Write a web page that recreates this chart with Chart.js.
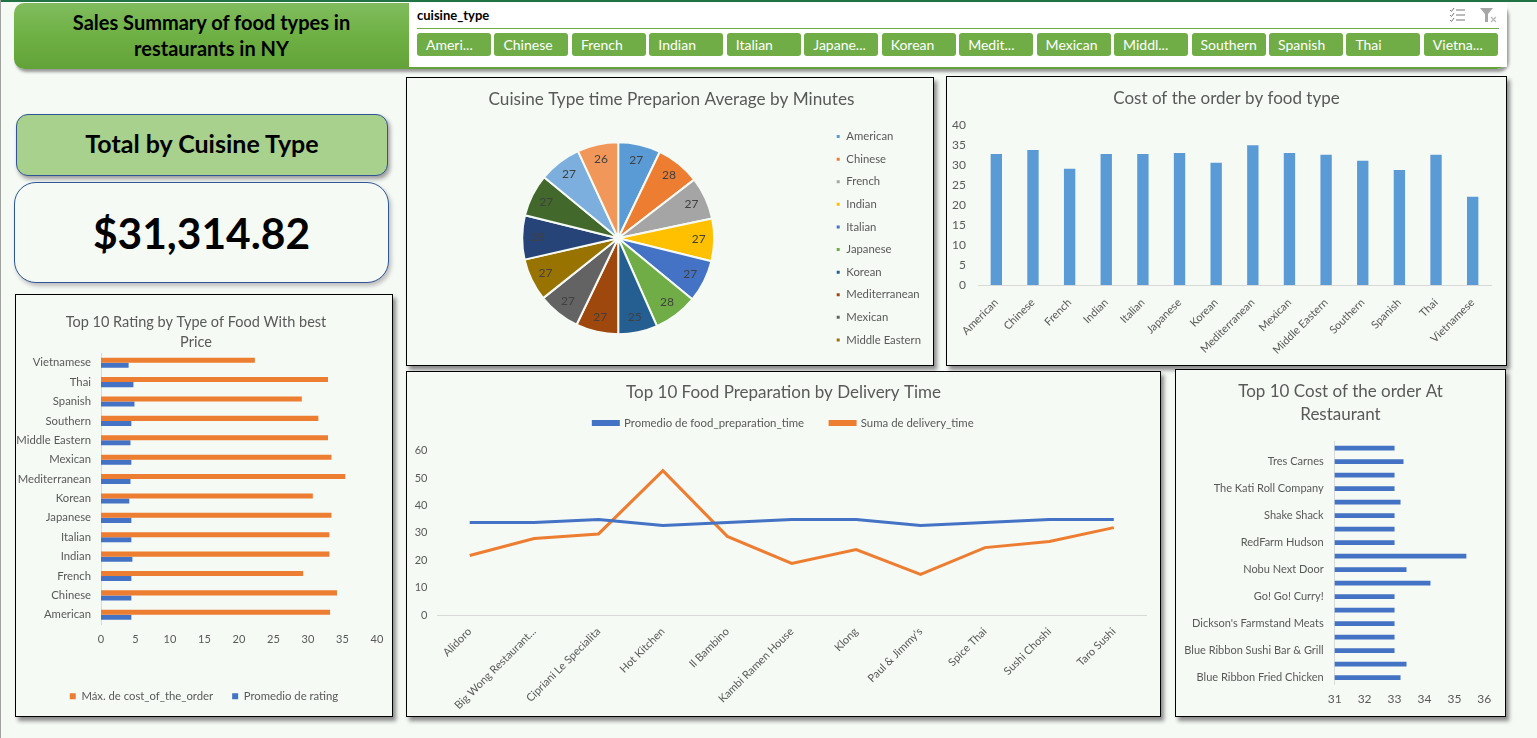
<!DOCTYPE html>
<html><head><meta charset="utf-8">
<script src="https://cdn.jsdelivr.net/npm/chart.js@4/dist/chart.umd.min.js"></script>
<style>
html,body{margin:0;padding:0;width:1537px;height:738px;overflow:hidden;background:#F5FAF5;font-family:Lato,sans-serif}
.abs{position:absolute;box-sizing:border-box}
.panel{position:absolute;box-sizing:border-box;background:#F5FAF5;border:1.5px solid #000;box-shadow:3px 4px 4px #8a8a8a}
canvas{position:absolute;display:block}
.btn{position:absolute;top:33px;width:74px;height:23px;background:#70AD47;border-radius:3px;color:#fff;font-size:14px;line-height:23px;padding-left:9px;box-sizing:border-box;white-space:nowrap;overflow:hidden}
</style></head><body>
<div class="abs" style="left:0;top:0;width:1537px;height:2px;background:#217346"></div>
<div class="abs" style="left:0;top:0;width:1px;height:738px;background:#a0a0a0"></div>
<div class="abs" style="left:14px;top:3px;width:1493px;height:66px;border-radius:10px;background:linear-gradient(#80BC5E,#6FB044 50%,#62A238);box-shadow:2px 3px 3px #999"></div>
<div class="abs" style="left:14px;top:2px;width:395px;height:66px;display:flex;align-items:center;justify-content:center;text-align:center;font-weight:700;font-size:20px;line-height:26px;color:#000"><div>Sales Summary of food types in<br>restaurants in NY</div></div>
<div class="abs" id="slicer" style="left:409px;top:3px;width:1098px;height:64px;background:#fff">
  <div class="abs" style="left:8px;top:4px;font-weight:700;font-size:13px;color:#000">cuisine_type</div>
  <div class="abs" style="left:8px;top:25px;width:1082px;height:1px;background:#70AD47"></div>
  <svg class="abs" style="left:1038px;top:3px" width="52" height="18" viewBox="0 0 52 18">
    <g stroke="#777" stroke-width="1" fill="none">
      <path d="M3 4l1.5 1.5L7 2M3 9l1.5 1.5L7 7M3 14l1.5 1.5L7 12M9 4h9M9 9h9M9 14h9"/>
    </g>
    <path d="M33 2h13l-5 6v8h-3V8z" fill="#a6a6a6"/>
    <path d="M44 11l5 5M49 11l-5 5" stroke="#b5b5b5" stroke-width="1.2"/>
  </svg>
</div>
<div class="abs" style="left:16px;top:114px;width:372px;height:62px;padding-bottom:4px;background:#A9D18E;border:1.5px solid #2F5597;border-radius:12px;box-shadow:2px 3px 4px #999;display:flex;align-items:center;justify-content:center;font-weight:700;font-size:25px;color:#000">Total by Cuisine Type</div>
<div class="abs" style="left:14px;top:182px;width:375px;height:101px;background:#F5FAF5;border:1.5px solid #2F5597;border-radius:22px;box-shadow:2px 3px 4px #bbb;display:flex;align-items:center;justify-content:center;font-weight:700;font-size:42.5px;color:#000">$31,314.82</div>

<div class="panel" style="left:406px;top:77px;width:528px;height:289px"></div>
<div class="panel" style="left:946px;top:76px;width:561px;height:290px"></div>
<div class="panel" style="left:15px;top:294px;width:378px;height:423px"></div>
<div class="panel" style="left:406px;top:371px;width:755px;height:346px"></div>
<div class="panel" style="left:1175px;top:369px;width:331px;height:348px"></div>
<canvas id="pie" width="528" height="289" style="left:406px;top:77px"></canvas>
<canvas id="col" width="561" height="290" style="left:946px;top:76px"></canvas>
<canvas id="rate" width="378" height="423" style="left:15px;top:294px"></canvas>
<canvas id="line" width="755" height="346" style="left:406px;top:371px"></canvas>
<canvas id="rest" width="331" height="348" style="left:1175px;top:369px"></canvas>
<script>
const cuisines=["American","Chinese","French","Indian","Italian","Japanese","Korean","Mediterranean","Mexican","Middle Eastern","Southern","Spanish","Thai","Vietnamese"];
const slicerLabels=["Ameri...","Chinese","French","Indian","Italian","Japane...","Korean","Medit...","Mexican","Middl...","Southern","Spanish","Thai","Vietna..."];
const prepMinutes=[27,28,27,27,27,28,25,27,27,27,28,27,27,26];
const pieColors=["#5B9BD5","#ED7D31","#A5A5A5","#FFC000","#4472C4","#70AD47","#255E91","#9E480E","#636363","#997300","#264478","#43682B","#7CAFDD","#F1975A"];
const orderCost=[32.8,33.8,29.1,32.8,32.8,33.05,30.6,35.0,33.05,32.6,31.1,28.8,32.6,22.1];
const maxCost=[33.2,34.2,29.3,33.1,33.1,33.4,30.7,35.4,33.4,32.9,31.5,29.1,32.9,22.3];
const avgRating=[4.4,4.4,4.4,4.55,4.4,4.4,4.1,4.27,4.4,4.27,4.4,4.85,4.7,4.0];
const lineRestaurants=["Alidoro","Big Wong Restaurant...","Cipriani Le Specialita","Hot Kitchen","Il Bambino","Kambi Ramen House","Klong","Paul & Jimmy's","Spice Thai","Sushi Choshi","Taro Sushi"];
const prepTime=[33.8,33.8,34.9,32.7,33.8,34.9,34.9,32.7,33.8,34.9,34.9];
const deliveryTime=[21.7,27.9,29.6,52.7,28.7,18.8,23.9,14.8,24.6,26.8,31.9];
const costRestaurants=["Blue Ribbon Fried Chicken","","Blue Ribbon Sushi Bar & Grill","","Dickson's Farmstand Meats","","Go! Go! Curry!","","Nobu Next Door","","RedFarm Hudson","","Shake Shack","","The Kati Roll Company","","Tres Carnes",""];
const restaurantCost=[33.2,33.4,33,33,33,33,33,34.2,33.4,35.4,33,33,33,33.2,33,33,33.3,33];

const box=document.getElementById('slicer');
slicerLabels.forEach((t,i)=>{const d=document.createElement('div');d.className='btn';d.textContent=t;d.style.left=(8+i*77.45)+'px';d.style.top='30px';box.appendChild(d);});

Chart.defaults.font.family='Lato';
Chart.defaults.color='#595959';
Chart.defaults.animation=false;
Chart.defaults.responsive=false;
Chart.defaults.devicePixelRatio=1;
Chart.defaults.plugins.tooltip.enabled=false;
const GREY='#D9D9D9';
const fixW=w=>s=>{s.width=w;s.paddingTop=0;s.paddingBottom=0;};
const fixH=h=>s=>{s.height=h;s.paddingLeft=0;s.paddingRight=0;};
const spacer={id:'spacer',beforeLayout(c,a,o){if(c.legend&&o.extra){const f=c.legend.fit;c.legend.fit=function(){f.call(this);this.height+=o.extra;};}}};
const centerTitle={id:'centerTitle',afterLayout(c){c.titleBlock.left=0;c.titleBlock.right=c.width;}};
const centerLegend={id:'centerLegend',afterLayout(c){c.legend.left=0;c.legend.right=c.width;}};
const pieLabels={id:'pieLabels',afterDatasetsDraw(c){const g=c.ctx,m=c.getDatasetMeta(0);g.save();g.font='12px Lato';g.fillStyle='#404040';g.textAlign='center';g.textBaseline='middle';
 m.data.forEach((a,i)=>{const t=(a.startAngle+a.endAngle)/2,r=a.outerRadius*0.84;g.fillText(c.data.datasets[0].data[i],a.x+Math.cos(t)*r,a.y+Math.sin(t)*r);});g.restore();}};
const title=(text,size,top,bottom,lh)=>({display:true,text,color:'#595959',font:{size,weight:'normal',lineHeight:lh||1.25},padding:{top,bottom}});
const noGrid={display:false,drawTicks:false};

new Chart('pie',{type:'pie',plugins:[pieLabels],data:{labels:cuisines,datasets:[{data:prepMinutes,backgroundColor:pieColors,borderColor:'#F5FAF5',borderWidth:2}]},
 options:{radius:96,layout:{padding:{left:6,right:3}},plugins:{title:title('Cuisine Type time Preparion Average by Minutes',17.2,12,0),
  legend:{position:'right',fullSize:false,labels:{boxWidth:5,boxHeight:5,padding:11.3,font:{size:11.3},filter:(it)=>it.index<10}}}}});

new Chart('col',{type:'bar',plugins:[centerTitle],data:{labels:cuisines,datasets:[{data:orderCost,backgroundColor:'#5B9BD5',barPercentage:0.31,categoryPercentage:1}]},
 options:{layout:{padding:{right:16}},plugins:{legend:{display:false},title:title('Cost of the order by food type',17,12,16)},
  scales:{x:{afterFit:fixH(81),grid:{display:false},border:{color:GREY},ticks:{minRotation:45,maxRotation:45,autoSkip:false,padding:3,font:{size:11}}},
   y:{afterFit:fixW(32),min:0,max:40,grid:noGrid,border:{display:false},ticks:{stepSize:5,padding:12,font:{size:12}}}}}});

new Chart('rate',{type:'bar',plugins:[centerLegend],data:{labels:cuisines,datasets:[
  {label:'Máx. de cost_of_the_order',data:maxCost,backgroundColor:'#ED7D31',barPercentage:1,categoryPercentage:0.52},
  {label:'Promedio de rating',data:avgRating,backgroundColor:'#4472C4',barPercentage:1,categoryPercentage:0.52}]},
 options:{indexAxis:'y',layout:{padding:{right:16,bottom:5.2}},plugins:{title:title(['Top 10 Rating by Type of Food With best','Price'],14.5,18,1,1.38),
  legend:{position:'bottom',labels:{boxWidth:6,boxHeight:6,padding:19,font:{size:11.3}}}},
  scales:{x:{afterFit:fixH(47),min:0,max:40,grid:noGrid,border:{display:false},ticks:{stepSize:5,padding:8,maxRotation:0,font:{size:11}}},
   y:{afterFit:fixW(86),reverse:true,grid:noGrid,border:{color:GREY},ticks:{autoSkip:false,padding:10,font:{size:11.3}}}}}});

new Chart('line',{type:'line',plugins:[spacer,centerTitle,centerLegend],data:{labels:lineRestaurants,datasets:[
  {label:'Promedio de food_preparation_time',data:prepTime,borderColor:'#4472C4',backgroundColor:'#4472C4',borderWidth:3,pointRadius:0,tension:0},
  {label:'Suma de delivery_time',data:deliveryTime,borderColor:'#ED7D31',backgroundColor:'#ED7D31',borderWidth:3,pointRadius:0,tension:0}]},
 options:{layout:{padding:{right:15}},plugins:{spacer:{extra:12},title:title('Top 10 Food Preparation by Delivery Time',17,11,-12),
  legend:{position:'top',labels:{boxWidth:25,boxHeight:3,padding:26,font:{size:11.4}}}},
  scales:{x:{afterFit:fixH(102),offset:true,grid:{display:false},border:{color:GREY},ticks:{minRotation:45,maxRotation:45,autoSkip:false,padding:2,font:{size:11}}},
   y:{afterFit:fixW(31.5),min:0,max:60,grid:noGrid,border:{display:false},ticks:{stepSize:10,padding:10,font:{size:11}}}}}});

new Chart('rest',{type:'bar',plugins:[centerTitle],data:{labels:costRestaurants,datasets:[{data:restaurantCost,backgroundColor:'#4472C4',barPercentage:0.35,categoryPercentage:1}]},
 options:{indexAxis:'y',layout:{padding:{right:21.7}},plugins:{legend:{display:false},title:title(['Top 10 Cost of the order At','Restaurant'],17,11,15.5,1.35)},
  scales:{x:{afterFit:fixH(32.7),min:31,max:36,grid:{display:false},border:{display:false},ticks:{stepSize:1,padding:0,maxRotation:0,font:{size:12}}},
   y:{afterFit:fixW(159.7),reverse:true,grid:noGrid,border:{color:GREY},ticks:{autoSkip:false,padding:11,font:{size:11}}}}}});
</script>
</body></html>
